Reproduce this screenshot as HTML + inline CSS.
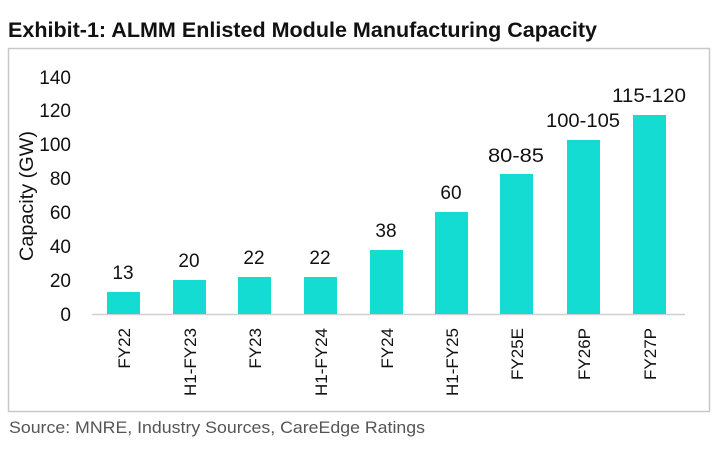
<!DOCTYPE html>
<html><head><meta charset="utf-8"><style>
body{margin:0;background:#fff;width:718px;height:448px;overflow:hidden;font-family:"Liberation Sans",sans-serif;}
</style></head><body>
<svg width="718" height="448" xmlns="http://www.w3.org/2000/svg" font-family="Liberation Sans, sans-serif">
<text x="8" y="37" font-size="21" font-weight="bold" fill="#111" textLength="589" lengthAdjust="spacingAndGlyphs">Exhibit-1: ALMM Enlisted Module Manufacturing Capacity</text>
<rect x="8.5" y="48.5" width="701" height="363" fill="#fff" stroke="#c8c8c8" stroke-width="1.5"/>
<g font-size="19" fill="#111" text-anchor="end">
<text x="71" y="321">0</text><text x="71" y="287">20</text><text x="71" y="253">40</text><text x="71" y="219">60</text><text x="71" y="185">80</text><text x="71" y="151">100</text><text x="71" y="117">120</text><text x="71" y="84">140</text>
</g>
<text transform="translate(33,196) rotate(-90)" font-size="19" fill="#111" text-anchor="middle" textLength="130" lengthAdjust="spacingAndGlyphs">Capacity (GW)</text>
<line x1="92" y1="314.5" x2="685" y2="314.5" stroke="#d0d0d0" stroke-width="1.5"/>
<g fill="#14dcd2">
<rect x="107" y="292" width="33" height="22"/>
<rect x="173" y="280" width="33" height="34"/>
<rect x="238" y="277" width="33" height="37"/>
<rect x="304" y="277" width="33" height="37"/>
<rect x="370" y="250" width="33" height="64"/>
<rect x="435" y="212" width="33" height="102"/>
<rect x="500" y="174" width="33" height="140"/>
<rect x="567" y="140" width="33" height="174"/>
<rect x="633" y="115" width="33" height="199"/>
</g>
<g font-size="19" fill="#111" text-anchor="middle">
<text x="123" y="279">13</text><text x="189" y="267">20</text><text x="254" y="264">22</text><text x="320" y="264">22</text><text x="386" y="237">38</text><text x="451" y="199">60</text><text x="516" y="162" textLength="56" lengthAdjust="spacingAndGlyphs">80-85</text><text x="583" y="127" textLength="74" lengthAdjust="spacingAndGlyphs">100-105</text><text x="649" y="102" textLength="74" lengthAdjust="spacingAndGlyphs">115-120</text>
</g>
<g font-size="17" fill="#111" text-anchor="end">
<text transform="translate(130,328) rotate(-90)">FY22</text>
<text transform="translate(196,328) rotate(-90)">H1-FY23</text>
<text transform="translate(261,328) rotate(-90)">FY23</text>
<text transform="translate(327,328) rotate(-90)">H1-FY24</text>
<text transform="translate(393,328) rotate(-90)">FY24</text>
<text transform="translate(458,328) rotate(-90)">H1-FY25</text>
<text transform="translate(523,328) rotate(-90)">FY25E</text>
<text transform="translate(590,328) rotate(-90)">FY26P</text>
<text transform="translate(656,328) rotate(-90)">FY27P</text>
</g>
<text x="9" y="433" font-size="17" fill="#555" textLength="416" lengthAdjust="spacingAndGlyphs">Source: MNRE, Industry Sources, CareEdge Ratings</text>
</svg>
</body></html>
